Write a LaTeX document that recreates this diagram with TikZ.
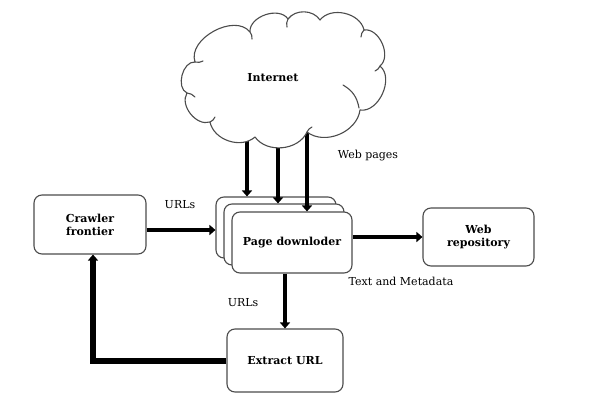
\documentclass[tikz,border=0pt]{standalone}
\usepackage{fontspec}
\setmainfont{DejaVu Serif}
\usetikzlibrary{arrows.meta}
\begin{document}
\begin{tikzpicture}[x=1pt,y=-1pt,
 box/.style={draw=black!70, line width=1.1pt, rounded corners=8pt, fill=white,
   font=\bfseries\fontsize{11}{13}\selectfont, align=center, inner sep=0pt},
 arr/.style={line width=4.5pt, -{Triangle[length=6pt,width=10pt]}},
 lbl/.style={font=\fontsize{11}{13}\selectfont, inner sep=0pt},
 cloudline/.style={draw=black!70, fill=white, line width=1.1pt, line join=round},
 hook/.style={draw=black!70, line width=1.1pt, line cap=round}]
\useasboundingbox[fill=white] (0,0) rectangle (598,405);

\node[box, minimum width=112pt, minimum height=59pt] (crawler) at (90,224.5) {Crawler\\frontier};
\node[box, minimum width=120pt, minimum height=61pt] (pd1) at (276,227.5) {};
\node[box, minimum width=120pt, minimum height=61pt] (pd2) at (284,234.5) {};
\node[box, minimum width=120pt, minimum height=61pt] (pd3) at (292,242.5) {Page downloder};
\node[box, minimum width=111pt, minimum height=58pt] (repo) at (478.5,237) {Web\\repository};
\node[box, minimum width=116pt, minimum height=63pt] (extract) at (285,360.5) {Extract URL};

\coordinate (w1) at (247,125);
\coordinate (w2) at (278,125);
\coordinate (w3) at (307,125);
\coordinate (u1) at (150,230);

\draw[arr, line width=4pt] (w1) -- (w1 |- pd1.north);
\draw[arr, line width=4pt] (w2) -- (w2 |- pd2.north);
\draw[arr, line width=4pt] (w3) -- (w3 |- pd3.north);
\draw[arr] (u1 -| crawler.east) -- (u1 -| pd1.west);
\draw[arr] (pd3.east |- repo.west) -- (repo.west);
\draw[arr] (pd3.south -| extract.north) -- (extract.north);
\draw[arr, line width=6pt] (extract.west) -| ([xshift=3pt]crawler.south);

% cloud
\path[cloudline] (195,62) to[bend left=80] (250,32) to[bend left=75] (288,19)
  to[bend left=55] (320,20) to[bend left=65] (364,30) to[bend left=75] (380,66)
  to[bend left=75] (360,110) to[bend left=60] (307,132) to[bend left=60] (255,137)
  to[bend left=60] (210,122) to[bend left=70] (187,93) to[bend left=80] (195,62) -- cycle;
\path[hook] (195,62) to[bend right=20] (203,61);
\path[hook] (187,93) to[bend left=20] (195,97);
\path[hook] (210,122) to[bend right=20] (215,117);
\path[hook] (250,32) to[bend left=20] (252,39);
\path[hook] (288,19) to[bend right=20] (287,27);
\path[hook] (364,30) to[bend right=20] (361,37);
\path[hook] (380,66) to[bend left=20] (375,71);
\path[hook] (343,85) to[bend left=25] (359,108);
\path[hook] (307,132) to[bend left=20] (312,127);
\node[font=\bfseries\fontsize{11}{13}\selectfont] (inet) at (273,78) {Internet};

\node[lbl] (l1) at (180,205) {URLs};
\node[lbl] (l2) at (368,156) {Web pages};
\node[lbl] (l3) at (401,281) {Text and Metadata};
\node[lbl] (l4) at (243,303) {URLs};
\end{tikzpicture}
\end{document}
